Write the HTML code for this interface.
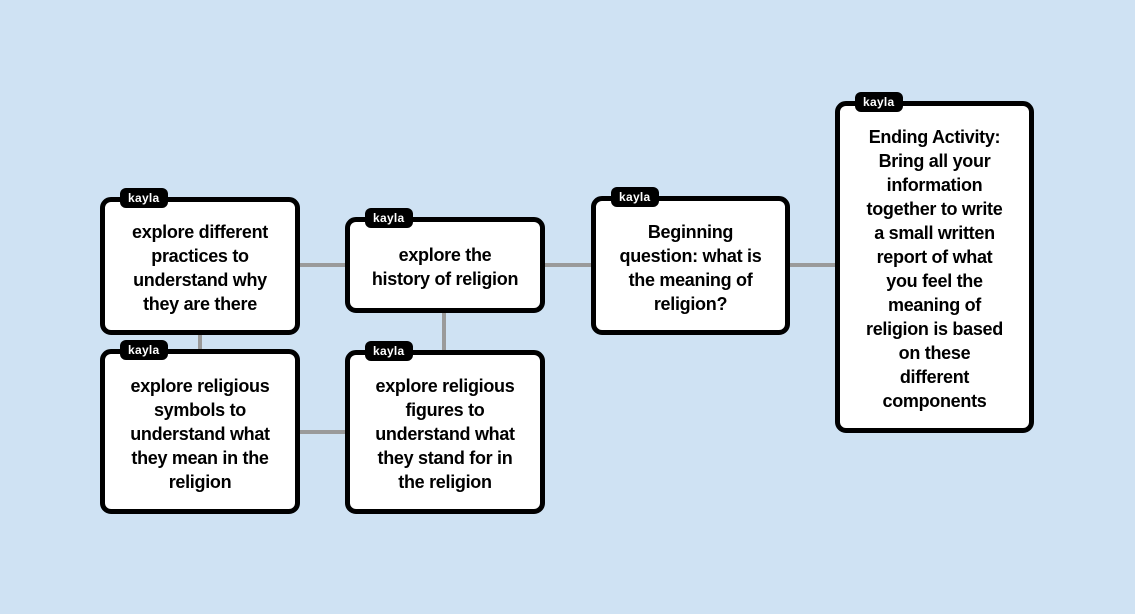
<!DOCTYPE html>
<html><head><meta charset="utf-8"><style>
body{margin:0;width:1135px;height:614px;background:#cfe2f3;position:relative;overflow:hidden;font-family:"Liberation Sans",sans-serif}
.l{position:absolute;background:#9a9a9a}
.b{position:absolute;box-sizing:border-box;border:5px solid #000;border-radius:11px;background:#fff;display:flex;align-items:center;justify-content:center;text-align:center;font-weight:bold;font-size:18px;line-height:24px;letter-spacing:-0.3px;color:#000;padding:0 4px;white-space:nowrap}
.b>span{display:block;padding-top:4px}
.t{position:absolute;top:-14px;left:15px;background:#000;color:#fff;font-size:12px;font-weight:bold;line-height:20px;height:20px;padding:0 8px;border-radius:6px;letter-spacing:0.3px}
</style></head><body>
<div class="l" style="left:298px;top:263px;width:50px;height:4px"></div>
<div class="l" style="left:543px;top:263px;width:50px;height:4px"></div>
<div class="l" style="left:788px;top:263px;width:50px;height:4px"></div>
<div class="l" style="left:198px;top:333px;width:4px;height:18px"></div>
<div class="l" style="left:442px;top:311px;width:4px;height:41px"></div>
<div class="l" style="left:298px;top:430px;width:50px;height:4px"></div>

<div class="b" style="left:100px;top:197px;width:200px;height:138px"><div class="t">kayla</div><span>explore different<br>practices to<br>understand why<br>they are there</span></div>
<div class="b" style="left:345px;top:217px;width:200px;height:96px"><div class="t">kayla</div><span>explore the<br>history of religion</span></div>
<div class="b" style="left:591px;top:196px;width:199px;height:139px"><div class="t">kayla</div><span>Beginning<br>question: what is<br>the meaning of<br>religion?</span></div>
<div class="b" style="left:835px;top:101px;width:199px;height:332px"><div class="t">kayla</div><span>Ending Activity:<br>Bring all your<br>information<br>together to write<br>a small written<br>report of what<br>you feel the<br>meaning of<br>religion is based<br>on these<br>different<br>components</span></div>
<div class="b" style="left:100px;top:349px;width:200px;height:165px"><div class="t">kayla</div><span>explore religious<br>symbols to<br>understand what<br>they mean in the<br>religion</span></div>
<div class="b" style="left:345px;top:350px;width:200px;height:164px"><div class="t">kayla</div><span>explore religious<br>figures to<br>understand what<br>they stand for in<br>the religion</span></div>
</body></html>
